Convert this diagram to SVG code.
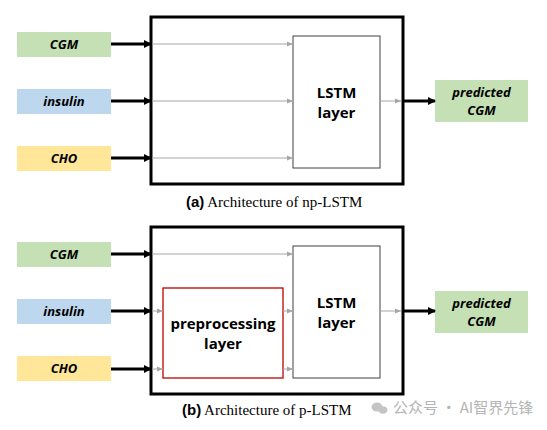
<svg xmlns="http://www.w3.org/2000/svg" width="547" height="430" viewBox="0 0 547 430">
<defs>
<style>
.lbl{font-family:"Open Sans","Noto Sans",sans-serif;font-weight:bold;font-style:italic;font-size:13px;fill:#000;text-anchor:middle}
.blk{font-family:"Open Sans","Noto Sans",sans-serif;font-weight:bold;font-size:15px;fill:#000;text-anchor:middle}
.cap{font-family:"Liberation Serif",serif;font-size:15px;fill:#000}
.capb{font-family:"Liberation Sans",sans-serif;font-weight:bold;font-size:15px}
.outer{fill:#fff;stroke:#000;stroke-width:3}
.lstm{fill:#fff;stroke:#404040;stroke-width:1}
.pre{fill:#fff;stroke:#c00000;stroke-width:1.3}
.thick{stroke:#000;stroke-width:3;fill:none}
.thin{stroke:#a6a6a6;stroke-width:1;fill:none}
.wm{font-family:"Noto Sans CJK SC","Noto Sans",sans-serif;font-size:15px;fill:#b4b4b4}
</style>
<marker id="ah" markerWidth="8" markerHeight="8" refX="7" refY="4" orient="auto" markerUnits="userSpaceOnUse"><path d="M0,0 L8,4 L0,8 Z" fill="#000"/></marker>
<marker id="ahg" markerWidth="6" markerHeight="6" refX="6" refY="3" orient="auto" markerUnits="userSpaceOnUse"><path d="M0,0.5 L6,3 L0,5.5 Z" fill="#a6a6a6"/></marker>
</defs>

<!-- Panel (a) -->
<g id="a-outer"><rect class="outer" x="151" y="17" width="252" height="167"/></g>
<g id="a-cgm"><rect x="17" y="32" width="94" height="25" fill="#c5e0b4"/><text class="lbl" x="64" y="49">CGM</text></g>
<g id="a-insulin"><rect x="17" y="89" width="94" height="25" fill="#bdd7ee"/><text class="lbl" x="64" y="106">insulin</text></g>
<g id="a-cho"><rect x="17" y="146" width="94" height="25" fill="#ffe699"/><text class="lbl" x="64" y="163">CHO</text></g>
<g id="a-lstm"><rect class="lstm" x="293" y="36" width="87" height="132"/><text class="blk" x="336.5" y="98">LSTM</text><text class="blk" x="336.5" y="118">layer</text></g>
<g id="a-pred"><rect x="435" y="80" width="93" height="42" fill="#c5e0b4"/><text class="lbl" x="481.5" y="97">predicted</text><text class="lbl" x="481.5" y="115">CGM</text></g>

<g id="a-connectors">
<line class="thick" x1="111" y1="44" x2="151" y2="44" marker-end="url(#ah)"/>
<line class="thick" x1="111" y1="101" x2="151" y2="101" marker-end="url(#ah)"/>
<line class="thick" x1="111" y1="158" x2="151" y2="158" marker-end="url(#ah)"/>
<line class="thin" x1="152" y1="44" x2="293" y2="44" marker-end="url(#ahg)"/>
<line class="thin" x1="152" y1="101" x2="293" y2="101" marker-end="url(#ahg)"/>
<line class="thin" x1="152" y1="158" x2="293" y2="158" marker-end="url(#ahg)"/>
<line class="thin" x1="380" y1="101" x2="401" y2="101" marker-end="url(#ahg)"/>
<line class="thick" x1="403" y1="101" x2="435" y2="101" marker-end="url(#ah)"/>
</g>
<text class="cap" x="186" y="207"><tspan class="capb">(a)</tspan> Architecture of np-LSTM</text>

<!-- Panel (b) -->
<g id="b-outer"><rect class="outer" x="151" y="227" width="252" height="167"/></g>
<g id="b-cgm"><rect x="17" y="242" width="94" height="25" fill="#c5e0b4"/><text class="lbl" x="64" y="259">CGM</text></g>
<g id="b-insulin"><rect x="17" y="299" width="94" height="25" fill="#bdd7ee"/><text class="lbl" x="64" y="316">insulin</text></g>
<g id="b-cho"><rect x="17" y="356" width="94" height="25" fill="#ffe699"/><text class="lbl" x="64" y="373">CHO</text></g>
<g id="b-pre"><rect class="pre" x="163" y="288" width="120" height="90"/><text class="blk" x="223" y="329">preprocessing</text><text class="blk" x="223" y="349">layer</text></g>
<g id="b-lstm"><rect class="lstm" x="293" y="246" width="87" height="132"/><text class="blk" x="336.5" y="308">LSTM</text><text class="blk" x="336.5" y="328">layer</text></g>
<g id="b-pred"><rect x="435" y="291" width="93" height="42" fill="#c5e0b4"/><text class="lbl" x="481.5" y="308">predicted</text><text class="lbl" x="481.5" y="326">CGM</text></g>

<g id="b-connectors">
<line class="thick" x1="111" y1="254" x2="151" y2="254" marker-end="url(#ah)"/>
<line class="thick" x1="111" y1="311" x2="151" y2="311" marker-end="url(#ah)"/>
<line class="thick" x1="111" y1="369" x2="151" y2="369" marker-end="url(#ah)"/>
<line class="thin" x1="152" y1="254" x2="293" y2="254" marker-end="url(#ahg)"/>
<line class="thin" x1="152" y1="311" x2="163" y2="311" marker-end="url(#ahg)"/>
<line class="thin" x1="152" y1="369" x2="163" y2="369" marker-end="url(#ahg)"/>
<line class="thin" x1="283" y1="311" x2="293" y2="311" marker-end="url(#ahg)"/>
<line class="thin" x1="283" y1="369" x2="293" y2="369" marker-end="url(#ahg)"/>
<line class="thin" x1="380" y1="311" x2="401" y2="311" marker-end="url(#ahg)"/>
<line class="thick" x1="403" y1="311" x2="435" y2="311" marker-end="url(#ah)"/>
</g>
<text class="cap" x="182" y="415"><tspan class="capb">(b)</tspan> Architecture of p-LSTM</text>

<!-- watermark -->
<g id="watermark" fill="#c4c4c4">
<ellipse cx="377" cy="407" rx="5.5" ry="4.5"/>
<ellipse cx="383" cy="410" rx="4.5" ry="3.8"/>
</g>
<text class="wm" x="393" y="413">公众号 · AI智界先锋</text>
</svg>
